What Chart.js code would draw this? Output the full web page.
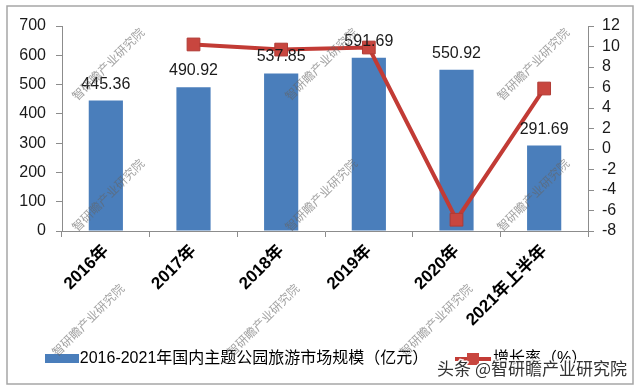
<!DOCTYPE html>
<html>
<head>
<meta charset="utf-8">
<script src="https://cdn.jsdelivr.net/npm/chart.js@4/dist/chart.umd.min.js"></script>
<style>
  html, body { margin: 0; padding: 0; background: #ffffff; }
  #wrap { width: 640px; height: 388px; }
</style>
</head>
<body>
<div id="wrap"><canvas id="myChart" width="640" height="388"></canvas></div>
<script>
//? Données du graphique.

const categories = ["2016年", "2017年", "2018年", "2019年", "2020年", "2021年上半年"];
const marketSize = [445.36, 490.92, 537.85, 591.69, 550.92, 291.69];
const growthRate = [null, 10.2, 9.7, 9.9, -6.9, 5.9];
const leftTicks = [0, 100, 200, 300, 400, 500, 600, 700];
const rightTicks = [-8, -6, -4, -2, 0, 2, 4, 6, 8, 10, 12];

const barLabel = "2016-2021年国内主题公园旅游市场规模（亿元）";
const lineLabel = "增长率（%）";
const watermark = "智研瞻产业研究院";
const sourceMark = "头条 @智研瞻产业研究院";

const FONT = "'Liberation Sans', 'Noto Sans CJK SC', sans-serif";
const BLUE = "#4a7ebb";
const RED = "#c23b35";

//? Symboles de la légende.

const makeBarSymbol = () => {
  const c = document.createElement("canvas");
  c.width = 34;
  c.height = 10;
  const ctx = c.getContext("2d");
  ctx.fillStyle = BLUE;
  ctx.fillRect(0, 0, 34, 9);
  return c;
};

const makeLineSymbol = () => {
  // canvas plus large que le trait : la partie droite reste vide
  const c = document.createElement("canvas");
  c.width = 40;
  c.height = 14;
  const ctx = c.getContext("2d");
  ctx.strokeStyle = RED;
  ctx.lineWidth = 4;
  ctx.beginPath();
  ctx.moveTo(0, 7);
  ctx.lineTo(36, 7);
  ctx.stroke();
  ctx.fillStyle = "#c8463f";
  ctx.fillRect(12, 1, 12, 12);
  return c;
};

//? Plugin : fond, cadre, étiquettes des barres, filigranes.

const decorPlugin = {
  id: "decor",
  beforeDraw(chart) {
    const { ctx } = chart;
    ctx.save();
    ctx.fillStyle = "#ffffff";
    ctx.fillRect(0, 0, chart.width, chart.height);
    ctx.strokeStyle = "#a6a6a6";
    ctx.lineWidth = 1.5;
    ctx.strokeRect(7, 6, 626, 378);
    ctx.restore();
  },
  afterDatasetsDraw(chart) {
    const { ctx } = chart;
    const meta = chart.getDatasetMeta(0);
    ctx.save();
    ctx.font = "16px " + FONT;
    ctx.fillStyle = "#1a1a1a";
    ctx.textAlign = "center";
    ctx.textBaseline = "alphabetic";
    meta.data.forEach((bar, i) => {
      ctx.fillText(marketSize[i].toFixed(2), bar.x, bar.y - 12);
    });
    ctx.restore();
  },
  afterDraw(chart) {
    const { ctx } = chart;
    const spots = [
      [108, 64], [108, 195], [321, 64], [321, 195], [533, 64], [533, 195],
      [88, 320], [263, 320], [436, 320],
    ];
    ctx.save();
    ctx.font = "12px 'Noto Sans CJK SC', sans-serif";
    ctx.fillStyle = "rgba(100,100,100,0.6)";
    ctx.textAlign = "center";
    ctx.textBaseline = "middle";
    spots.forEach(([x, y]) => {
      ctx.save();
      ctx.translate(x, y);
      ctx.rotate(-Math.PI / 4);
      ctx.fillText(watermark, 0, 0);
      ctx.restore();
    });
    ctx.font = "17px 'Noto Sans CJK SC', sans-serif";
    ctx.textAlign = "right";
    ctx.lineWidth = 3;
    ctx.strokeStyle = "rgba(255,255,255,0.9)";
    ctx.strokeText(sourceMark, 627, 369);
    ctx.fillStyle = "#333333";
    ctx.fillText(sourceMark, 627, 369);
    ctx.restore();
  },
};

//? Construction du graphique.

const ctx = document.getElementById("myChart").getContext("2d");

new Chart(ctx, {
  data: {
    labels: categories,
    datasets: [
      {
        type: "bar",
        label: barLabel,
        data: marketSize,
        backgroundColor: BLUE,
        yAxisID: "y",
        categoryPercentage: 1,
        barPercentage: 0.39,
        order: 2,
      },
      {
        type: "line",
        label: lineLabel,
        data: growthRate,
        borderColor: RED,
        borderWidth: 4,
        pointStyle: "rect",
        pointRadius: 9,
        pointBackgroundColor: "#c8463f",
        pointBorderColor: "#b03a34",
        pointBorderWidth: 1,
        tension: 0,
        yAxisID: "y1",
        order: 1,
      },
    ],
  },
  options: {
    responsive: false,
    animation: false,
    layout: { padding: { left: 7, right: 8, top: 26, bottom: 11 } },
    plugins: {
      tooltip: { enabled: false },
      legend: {
        position: "bottom",
        labels: {
          usePointStyle: true,
          pointStyleWidth: 20,
          padding: 10,
          color: "#000000",
          font: { size: 16, family: FONT },
          generateLabels: () => [
            { text: barLabel + "      ", pointStyle: makeBarSymbol(), datasetIndex: 0, fillStyle: BLUE, strokeStyle: BLUE, lineWidth: 0, hidden: false },
            { text: lineLabel, pointStyle: makeLineSymbol(), datasetIndex: 1, fillStyle: RED, strokeStyle: RED, lineWidth: 0, hidden: false },
          ],
        },
      },
    },
    scales: {
      x: {
        offset: true,
        grid: { display: true, drawOnChartArea: false, offset: true, tickLength: 6, color: "#8c8c8c" },
        border: { color: "#8c8c8c" },
        ticks: {
          color: "#000000",
          font: { size: 17, weight: "bold", family: FONT },
          maxRotation: 45,
          minRotation: 45,
          padding: 4,
        },
        afterFit: (scale) => { scale.height = 110; },
      },
      y: {
        position: "left",
        min: 0,
        max: 700,
        grid: { display: true, drawOnChartArea: false, tickLength: 6, color: "#8c8c8c" },
        border: { color: "#8c8c8c" },
        afterBuildTicks: (scale) => { scale.ticks = leftTicks.map((v) => ({ value: v })); },
        ticks: { color: "#1a1a1a", font: { size: 16, family: FONT }, padding: 10, autoSkip: false },
        afterFit: (scale) => { scale.width = 55; },
      },
      y1: {
        position: "right",
        min: -8,
        max: 12,
        grid: { display: true, drawOnChartArea: false, tickLength: 6, color: "#8c8c8c" },
        border: { color: "#8c8c8c" },
        afterBuildTicks: (scale) => { scale.ticks = rightTicks.map((v) => ({ value: v })); },
        ticks: { color: "#1a1a1a", font: { size: 16, family: FONT }, padding: 8, autoSkip: false },
        afterFit: (scale) => { scale.width = 44; },
      },
    },
  },
  plugins: [decorPlugin],
});
</script>
</body>
</html>
